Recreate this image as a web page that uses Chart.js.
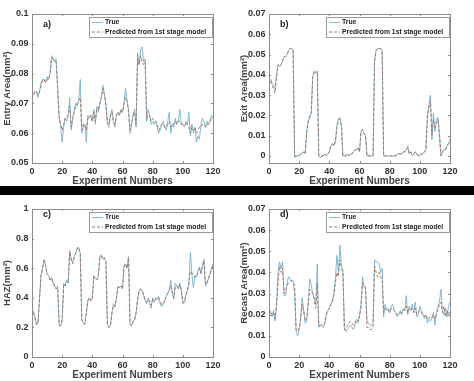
<!DOCTYPE html>
<html><head><meta charset="utf-8">
<script src="https://cdn.jsdelivr.net/npm/chart.js@4/dist/chart.umd.min.js"></script>
<style>
html,body{margin:0;padding:0;background:#fff;}
#wrap{position:relative;width:474px;height:381px;overflow:hidden;background:#fff;}
.pn{position:absolute;}
#bar{position:absolute;left:0;top:186px;width:474px;height:9px;background:#000;z-index:5;}
</style></head><body>
<div id="wrap">
<div class="pn" style="left:0;top:0;width:237px;height:190px"><canvas id="ca"></canvas></div>
<div class="pn" style="left:237px;top:0;width:237px;height:190px"><canvas id="cb"></canvas></div>
<div class="pn" style="left:0;top:195px;width:237px;height:186px"><canvas id="cc"></canvas></div>
<div class="pn" style="left:237px;top:195px;width:237px;height:186px"><canvas id="cd"></canvas></div>
<div id="bar"></div>
</div>
<script>
// ---------- DATA ----------
const seriesNames = ['True', 'Predicted from 1st stage model'];
const xTicks = [0, 20, 40, 60, 80, 100, 120];
const xTitle = 'Experiment Numbers';

const trueA = [0.073,0.074,0.074,0.072,0.074,0.077,0.078,0.078,0.077,0.079,0.078,0.080,0.086,0.085,0.084,0.085,0.075,0.065,0.062,0.057,
0.062,0.065,0.064,0.066,0.072,0.061,0.065,0.068,0.070,0.069,0.071,0.078,0.060,0.062,0.063,0.057,0.066,0.065,0.066,0.064,
0.068,0.063,0.069,0.067,0.070,0.072,0.076,0.073,0.070,0.063,0.062,0.066,0.068,0.064,0.062,0.066,0.067,0.066,0.068,0.067,
0.070,0.075,0.071,0.068,0.060,0.063,0.066,0.068,0.062,0.087,0.083,0.088,0.089,0.084,0.085,0.064,0.068,0.066,0.063,0.064,
0.063,0.064,0.062,0.060,0.061,0.063,0.064,0.062,0.061,0.064,0.067,0.060,0.063,0.062,0.065,0.063,0.064,0.068,0.063,0.063,
0.062,0.064,0.063,0.067,0.059,0.063,0.060,0.062,0.057,0.059,0.058,0.063,0.065,0.064,0.062,0.064,0.063,0.064,0.066,0.065];
const predA = [0.073,0.074,0.074,0.073,0.074,0.076,0.078,0.078,0.077,0.078,0.078,0.080,0.085,0.085,0.084,0.084,0.075,0.066,0.063,0.061,
0.063,0.065,0.065,0.066,0.069,0.062,0.065,0.067,0.069,0.070,0.071,0.072,0.061,0.063,0.063,0.061,0.065,0.065,0.066,0.064,
0.067,0.064,0.068,0.068,0.070,0.072,0.075,0.073,0.069,0.064,0.063,0.066,0.067,0.064,0.063,0.066,0.067,0.066,0.068,0.067,
0.070,0.072,0.071,0.067,0.061,0.063,0.066,0.067,0.063,0.085,0.083,0.086,0.084,0.083,0.084,0.065,0.065,0.066,0.064,0.065,
0.064,0.064,0.063,0.061,0.062,0.063,0.063,0.062,0.062,0.063,0.064,0.062,0.063,0.063,0.064,0.063,0.064,0.064,0.063,0.063,
0.063,0.063,0.063,0.062,0.060,0.062,0.061,0.062,0.060,0.061,0.062,0.062,0.063,0.063,0.062,0.063,0.063,0.064,0.065,0.065];

const trueB = [0.038,0.036,0.035,0.033,0.040,0.045,0.044,0.045,0.047,0.049,0.049,0.050,0.052,0.053,0.053,0.052,-0.001,0.000,0.000,0.000,
0.001,0.001,0.002,0.001,0.012,0.017,0.019,0.021,0.039,0.042,0.041,0.042,0.000,-0.001,0.000,0.000,0.001,0.000,0.001,0.002,
0.005,0.006,0.005,0.007,0.015,0.018,0.019,0.015,0.000,0.000,0.000,0.001,0.000,0.001,0.001,0.002,0.003,0.003,0.004,0.002,
0.012,0.013,0.011,0.010,0.000,0.000,0.000,0.000,0.000,0.047,0.052,0.053,0.053,0.053,0.052,0.000,0.000,0.000,0.000,0.000,
0.000,0.000,0.000,0.000,0.001,0.001,0.001,0.001,0.002,0.002,0.003,0.005,0.001,0.002,0.000,0.001,0.002,0.001,0.000,0.000,
0.001,0.001,0.002,0.003,0.020,0.025,0.030,0.008,0.021,0.012,0.018,0.019,0.010,0.000,0.002,0.003,0.003,0.005,0.006,0.008];
const predB = [0.037,0.035,0.033,0.031,0.039,0.045,0.044,0.045,0.047,0.049,0.049,0.050,0.052,0.053,0.053,0.052,0.000,0.000,0.000,0.000,
0.001,0.001,0.002,0.001,0.012,0.017,0.020,0.021,0.039,0.041,0.041,0.041,0.000,0.000,0.000,0.000,0.001,0.000,0.001,0.002,
0.005,0.006,0.005,0.007,0.014,0.018,0.018,0.015,0.000,0.000,0.000,0.001,0.000,0.001,0.001,0.002,0.003,0.003,0.004,0.002,
0.012,0.013,0.011,0.010,0.000,0.000,0.000,0.000,0.000,0.047,0.052,0.053,0.053,0.053,0.052,0.000,0.000,0.000,0.000,0.000,
0.000,0.000,0.000,0.000,0.001,0.001,0.001,0.001,0.002,0.002,0.003,0.004,0.001,0.002,0.001,0.001,0.002,0.001,0.000,0.000,
0.001,0.001,0.002,0.003,0.018,0.024,0.027,0.010,0.018,0.014,0.016,0.018,0.011,0.000,0.002,0.003,0.003,0.005,0.006,0.007];

const trueC = [0.31,0.27,0.22,0.23,0.40,0.55,0.60,0.66,0.62,0.56,0.55,0.52,0.54,0.50,0.48,0.46,0.48,0.21,0.21,0.25,
0.50,0.48,0.52,0.50,0.72,0.66,0.64,0.68,0.70,0.74,0.74,0.70,0.25,0.23,0.22,0.30,0.38,0.40,0.38,0.40,
0.55,0.53,0.52,0.55,0.68,0.69,0.66,0.67,0.64,0.22,0.20,0.21,0.30,0.36,0.34,0.40,0.48,0.47,0.48,0.46,
0.62,0.63,0.60,0.68,0.22,0.21,0.24,0.25,0.30,0.39,0.45,0.46,0.45,0.42,0.38,0.36,0.40,0.36,0.33,0.40,
0.37,0.40,0.39,0.41,0.36,0.34,0.36,0.38,0.41,0.43,0.45,0.52,0.44,0.39,0.50,0.48,0.46,0.50,0.45,0.36,
0.37,0.42,0.45,0.49,0.71,0.56,0.47,0.55,0.54,0.58,0.61,0.56,0.62,0.66,0.48,0.50,0.53,0.56,0.60,0.63];
const predC = [0.30,0.26,0.22,0.23,0.40,0.55,0.60,0.65,0.62,0.56,0.55,0.52,0.53,0.50,0.48,0.46,0.47,0.22,0.21,0.25,
0.49,0.48,0.51,0.50,0.71,0.66,0.63,0.67,0.70,0.73,0.74,0.70,0.25,0.23,0.22,0.30,0.38,0.40,0.38,0.40,
0.54,0.53,0.52,0.55,0.68,0.68,0.66,0.67,0.64,0.22,0.20,0.21,0.30,0.35,0.34,0.40,0.47,0.47,0.48,0.46,
0.61,0.63,0.60,0.67,0.22,0.21,0.24,0.25,0.30,0.39,0.44,0.46,0.45,0.42,0.38,0.37,0.39,0.38,0.35,0.39,
0.38,0.39,0.39,0.40,0.37,0.35,0.36,0.38,0.41,0.43,0.45,0.48,0.44,0.40,0.47,0.48,0.46,0.49,0.45,0.37,
0.37,0.41,0.45,0.49,0.58,0.57,0.55,0.54,0.54,0.57,0.60,0.57,0.61,0.65,0.49,0.50,0.53,0.56,0.59,0.62];

const trueD = [0.022,0.019,0.022,0.017,0.025,0.040,0.045,0.042,0.045,0.029,0.029,0.035,0.038,0.037,0.036,0.036,0.030,0.012,0.010,0.013,
0.018,0.028,0.022,0.016,0.017,0.026,0.037,0.034,0.030,0.028,0.025,0.044,0.014,0.015,0.015,0.014,0.016,0.020,0.022,0.023,
0.025,0.027,0.030,0.037,0.048,0.040,0.053,0.043,0.041,0.013,0.012,0.013,0.014,0.015,0.014,0.013,0.015,0.017,0.016,0.020,
0.025,0.038,0.033,0.032,0.017,0.016,0.015,0.015,0.016,0.046,0.045,0.045,0.044,0.040,0.042,0.019,0.025,0.022,0.023,0.021,
0.024,0.025,0.022,0.021,0.019,0.020,0.022,0.020,0.023,0.022,0.029,0.020,0.024,0.022,0.025,0.021,0.026,0.019,0.020,0.024,
0.022,0.020,0.018,0.020,0.016,0.018,0.017,0.018,0.021,0.015,0.021,0.024,0.026,0.032,0.022,0.020,0.023,0.019,0.024,0.026];
const predD = [0.021,0.020,0.021,0.018,0.024,0.035,0.043,0.040,0.042,0.030,0.031,0.034,0.035,0.036,0.036,0.035,0.034,0.013,0.012,0.014,
0.018,0.025,0.022,0.017,0.018,0.025,0.032,0.031,0.030,0.027,0.023,0.035,0.015,0.015,0.015,0.015,0.016,0.020,0.022,0.023,
0.025,0.026,0.029,0.035,0.040,0.038,0.046,0.042,0.040,0.013,0.013,0.015,0.016,0.017,0.016,0.015,0.016,0.018,0.017,0.019,
0.023,0.035,0.034,0.033,0.014,0.014,0.013,0.013,0.014,0.043,0.040,0.038,0.040,0.038,0.036,0.021,0.023,0.022,0.022,0.021,
0.023,0.023,0.022,0.021,0.020,0.020,0.021,0.021,0.022,0.022,0.024,0.021,0.023,0.022,0.023,0.021,0.023,0.020,0.021,0.022,
0.021,0.020,0.019,0.020,0.018,0.019,0.018,0.019,0.020,0.018,0.020,0.022,0.025,0.026,0.021,0.024,0.019,0.022,0.020,0.022];

const yTicksA = [0.05, 0.06, 0.07, 0.08, 0.09, 0.1];
const yTicksB = [0, 0.01, 0.02, 0.03, 0.04, 0.05, 0.06, 0.07];
const yTicksC = [0, 0.2, 0.4, 0.6, 0.8, 1];
const yTicksD = [0, 0.01, 0.02, 0.03, 0.04, 0.05, 0.06, 0.07];

const experimentNumbers = trueA.map((_, i) => i + 1);

// ---------- STYLE ----------
const FONT = "'Liberation Sans', Arial, sans-serif";
const TRUE_COLOR = 'rgba(120,178,204,0.9)';
const PRED_COLOR = '#a87565';

const matPlugin = {
  id: 'matBox',
  afterDraw(chart, args, o) {
    const {ctx, chartArea: a, scales: {x, y}} = chart;
    ctx.save();
    ctx.strokeStyle = '#8c8c8c';
    ctx.lineWidth = 1;
    ctx.strokeRect(Math.round(a.left) + 0.5, Math.round(a.top) + 0.5, Math.round(a.right - a.left), Math.round(a.bottom - a.top));
    ctx.beginPath();
    x.ticks.forEach(t => {
      const px = Math.round(x.getPixelForValue(t.value)) + 0.5;
      ctx.moveTo(px, a.bottom); ctx.lineTo(px, a.bottom - 2);
      ctx.moveTo(px, a.top); ctx.lineTo(px, a.top + 2);
    });
    y.ticks.forEach(t => {
      const py = Math.round(y.getPixelForValue(t.value)) + 0.5;
      ctx.moveTo(a.left, py); ctx.lineTo(a.left + 2, py);
      ctx.moveTo(a.right, py); ctx.lineTo(a.right - 2, py);
    });
    ctx.stroke();
    // legend
    const lx = 89, lw = 123, ly = o.legendTop, lh = 20;
    ctx.fillStyle = '#fff';
    ctx.fillRect(lx, ly, lw, lh);
    ctx.strokeStyle = '#9a9a9a';
    ctx.strokeRect(lx + 0.5, ly + 0.5, lw, lh);
    const ds = chart.data.datasets;
    ctx.font = "bold 6.8px " + FONT;
    ctx.textBaseline = 'middle';
    ctx.textAlign = 'left';
    ds.forEach((d, i) => {
      const yy = ly + 5.5 + i * 9.5;
      ctx.beginPath();
      ctx.strokeStyle = d.borderColor;
      ctx.lineWidth = 1;
      ctx.setLineDash(d.borderDash || []);
      ctx.moveTo(lx + 3, yy); ctx.lineTo(lx + 14, yy);
      ctx.stroke();
      ctx.setLineDash([]);
      ctx.fillStyle = '#222';
      ctx.fillText(d.label, lx + 16, yy, lw - 18);
    });
    // panel label
    ctx.font = "bold 9px " + FONT;
    ctx.fillStyle = '#222';
    ctx.fillText(o.tag, 43, o.tagY);
    ctx.restore();
  }
};

function makeChart(id, tv, pv, yTicks, ymin, ymax, yTitle, tag, tagY, canvasH) {
  const xH = canvasH - (canvasH === 190 ? 163 : 162);
  return new Chart(document.getElementById(id), {
    type: 'line',
    data: {
      datasets: [
        { label: seriesNames[0], data: experimentNumbers.map((n, i) => ({x: n, y: tv[i]})), order: 2,
          borderColor: TRUE_COLOR, borderWidth: 1, pointRadius: 0, tension: 0, fill: false },
        { label: seriesNames[1], data: experimentNumbers.map((n, i) => ({x: n, y: pv[i]})), order: 1,
          borderColor: PRED_COLOR, borderWidth: 1, borderDash: [3, 2], pointRadius: 0, tension: 0, fill: false }
      ]
    },
    options: {
      responsive: true, maintainAspectRatio: false, animation: false,
      layout: { padding: { top: 14, right: 24, left: 0, bottom: 0 } },
      plugins: { legend: { display: false }, tooltip: { enabled: false },
        matBox: { tag: tag, tagY: tagY, legendTop: 17 } },
      scales: {
        x: {
          type: 'linear', min: 0, max: 120,
          afterBuildTicks: s => { s.ticks = xTicks.map(v => ({value: v})); },
          afterFit: s => { s.height = xH; },
          grid: { display: false, drawTicks: false }, border: { display: false },
          ticks: { padding: 3, color: '#333', font: { family: FONT, size: 9, weight: 'bold' }, maxRotation: 0,
            callback: v => String(v) },
          title: { display: true, text: xTitle, color: '#444', font: { family: FONT, size: 10, weight: 'bold' },
            padding: { top: 0, bottom: canvasH === 190 ? 3 : 0 } }
        },
        y: {
          type: 'linear', min: ymin, max: ymax,
          afterBuildTicks: s => { s.ticks = yTicks.map(v => ({value: v})); },
          afterFit: s => { s.width = 32; },
          grid: { display: false, drawTicks: false }, border: { display: false },
          ticks: { padding: 3.5, color: '#333', font: { family: FONT, size: 9, weight: 'bold' },
            callback: v => String(+(+v).toFixed(3)) },
          title: { display: true, text: yTitle, color: '#444', font: { family: FONT, size: 9.5, weight: 'bold' },
            padding: { top: 2, bottom: 0 } }
        }
      }
    },
    plugins: [matPlugin]
  });
}

makeChart('ca', trueA, predA, yTicksA, 0.05, 0.1, 'Entry Area(mm²)', 'a)', 25, 190);
makeChart('cb', trueB, predB, yTicksB, -0.0035, 0.07, 'Exit Area(mm²)', 'b)', 25, 190);
makeChart('cc', trueC, predC, yTicksC, 0, 1, 'HAZ(mm²)', 'c)', 20, 186);
makeChart('cd', trueD, predD, yTicksD, 0, 0.07, 'Recast Area(mm²)', 'd)', 20, 186);
</script>
</body></html>
